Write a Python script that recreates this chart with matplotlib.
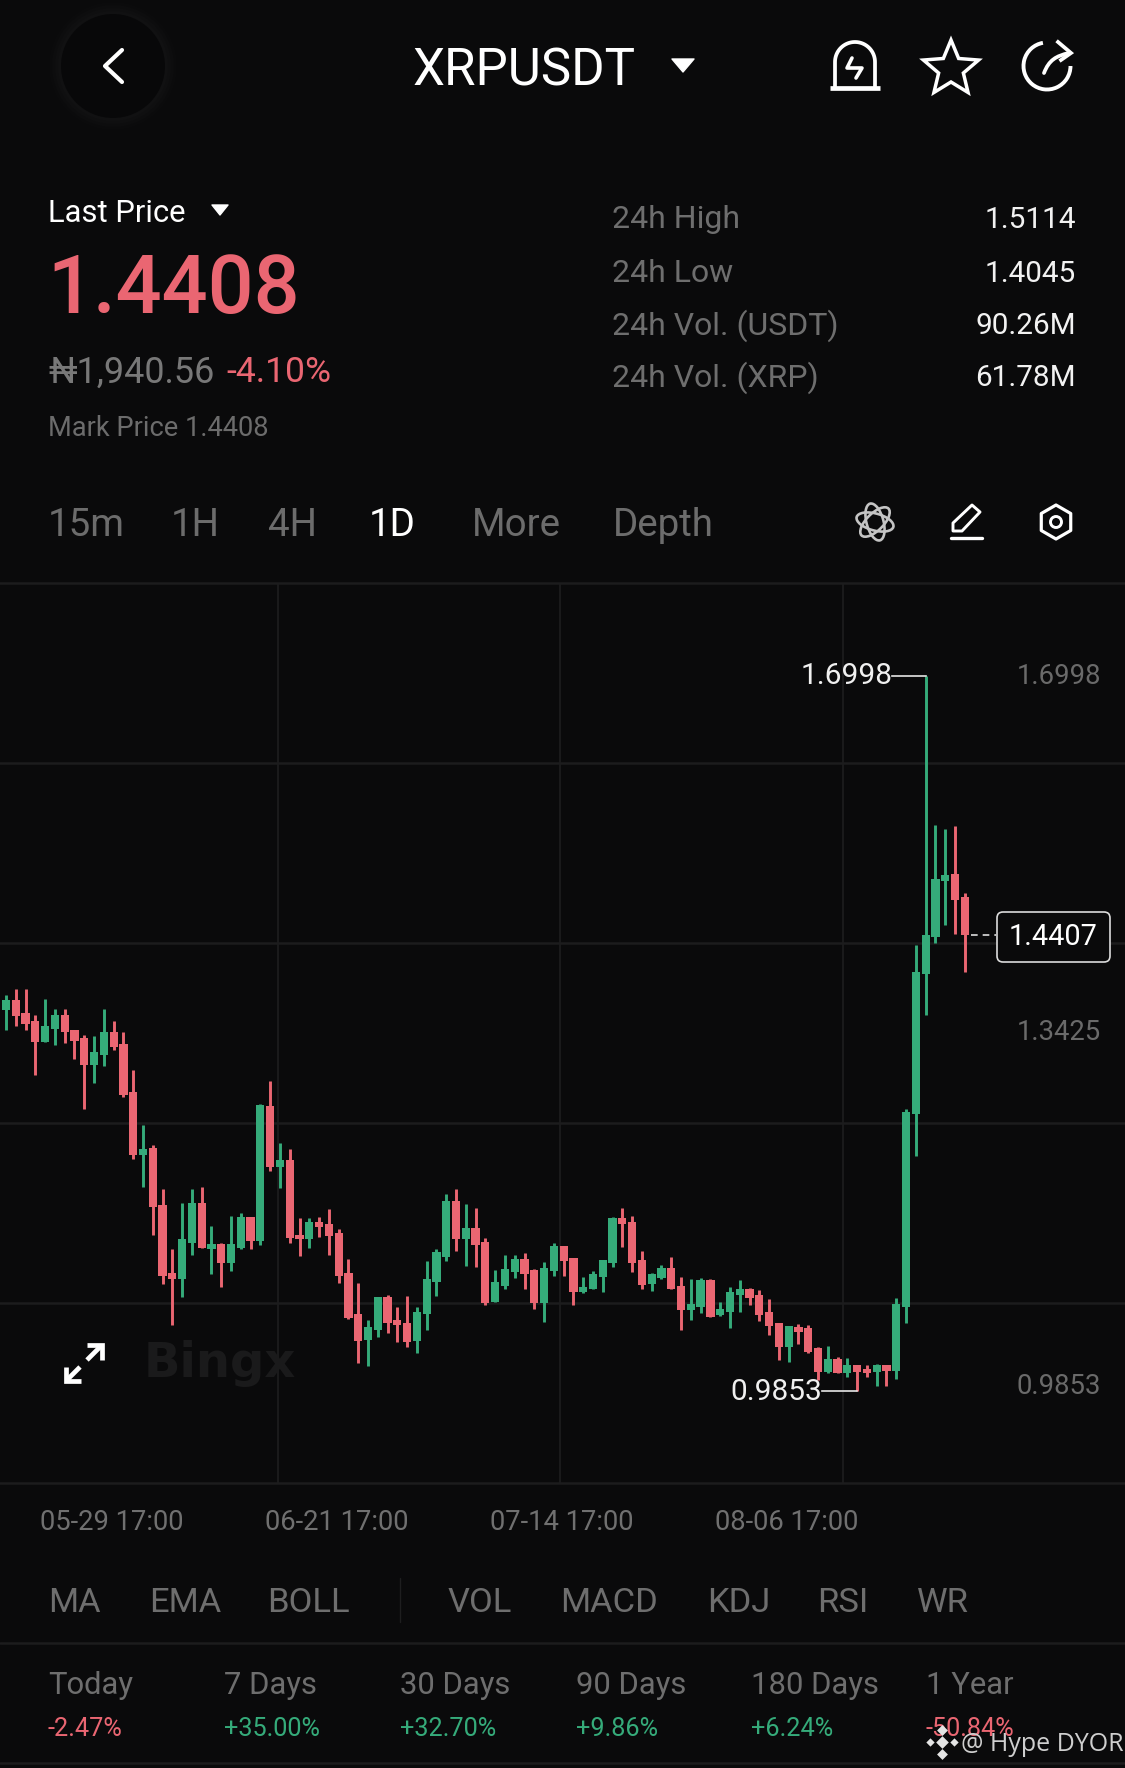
import matplotlib
matplotlib.use("Agg")
import matplotlib.pyplot as plt
from matplotlib.patches import Circle, FancyBboxPatch, Polygon, Ellipse, Arc
from matplotlib.path import Path
from matplotlib.patches import PathPatch
import numpy as np

plt.rcParams['font.family'] = ['Roboto', 'DejaVu Sans']

BG = '#0a0a0b'
RED = '#ea6672'
GREEN = '#35ab7a'
GRID = '#1c1c1d'
GREY = '#787878'
DIM = '#6c6c6c'

# candles, oldest first
opens = [1.3775,1.3658,1.3758,1.3631,1.3548,1.3335,1.3468,1.3608,1.3461,1.3378,1.3105,1.3211,1.3435,1.3318,1.2835,1.2208,1.2281,1.1711,1.1025,1.0965,
         1.1331,1.1731,1.1271,1.1315,1.1131,1.1275,1.1591,1.1348,1.2701,1.2088,1.2158,1.1408,1.1365,1.1538,1.1518,1.1431,1.1025,1.0618,1.0358,1.0458,
         1.0791,1.0555,1.0531,1.0345,1.0615,1.0938,1.1191,1.1751,1.1368,1.1475,1.1335,1.0738,1.0901,1.1035,1.1165,1.1055,1.0731,1.1045,1.1298,1.1178,
         1.0835,1.0871,1.0985,1.1131,1.1578,1.1541,1.1158,1.0918,1.0981,1.1075,1.0898,1.0658,1.0691,1.0958,1.0608,1.0638,1.0808,1.0871,1.0808,1.0638,
         1.0531,1.0291,1.0491,1.0475,1.0275,1.0038,1.0171,1.0031,1.0108,1.0071,1.0035,1.0105,1.0051,1.0691,1.2615,1.4015,1.4385,1.4948,1.5015,1.4785]
highs = [1.3775,1.3808,1.3865,1.3871,1.3608,1.3771,1.3665,1.3665,1.3461,1.3405,1.3398,1.3671,1.3551,1.3438,1.3058,1.2505,1.2305,1.1871,1.1265,1.1725,
         1.1871,1.1891,1.1498,1.1325,1.1598,1.1631,1.1591,1.2718,1.2945,1.2328,1.2268,1.1575,1.1578,1.1585,1.1668,1.1465,1.1165,1.0925,1.0558,1.0785,
         1.0808,1.0691,1.0798,1.0685,1.1151,1.1265,1.1818,1.1865,1.1718,1.1675,1.1381,1.1058,1.1208,1.1208,1.1225,1.1065,1.1138,1.1331,1.1298,1.1178,
         1.0991,1.1045,1.1161,1.1591,1.1675,1.1598,1.1245,1.1031,1.1105,1.1191,1.0991,1.0965,1.0981,1.0965,1.0741,1.0885,1.0958,1.0878,1.0858,1.0765,
         1.0531,1.0498,1.0518,1.0511,1.0285,1.0298,1.0191,1.0175,1.0108,1.0105,1.0118,1.0111,1.0781,1.2671,1.4308,1.6998,1.5508,1.5465,1.5498,1.4831]
lows = [1.3658,1.3458,1.3498,1.3458,1.3008,1.3335,1.3308,1.3331,1.3171,1.2671,1.2931,1.3098,1.3258,1.2785,1.2165,1.1891,1.1411,1.0918,1.0505,1.0785,
        1.1208,1.1278,1.1018,1.0891,1.1051,1.1265,1.1265,1.1308,1.2051,1.1878,1.1331,1.1198,1.1278,1.1391,1.1211,1.0925,1.0571,1.0131,1.0098,1.0391,
        1.0425,1.0335,1.0285,1.0231,1.0458,1.0798,1.1151,1.1251,1.1098,1.1085,1.0705,1.0738,1.0868,1.0978,1.0871,1.0665,1.0538,1.0998,1.1001,1.0705,
        1.0831,1.0868,1.0838,1.1085,1.1291,1.1038,1.0871,1.0851,1.0965,1.0865,1.0458,1.0558,1.0631,1.0585,1.0598,1.0481,1.0638,1.0711,1.0551,1.0405,
        1.0158,1.0138,1.0318,1.0225,0.9958,1.0031,1.0025,0.9991,0.9853,0.9985,0.9898,0.9901,0.9971,1.0531,1.2201,1.3608,1.4331,1.4508,1.4418,1.4035]
closes = [1.3658,1.3758,1.3598,1.3518,1.3341,1.3498,1.3608,1.3435,1.3348,1.3105,1.3238,1.3435,1.3285,1.2805,1.2205,1.2271,1.1688,1.0998,1.0965,1.1365,
          1.1731,1.1278,1.1315,1.1131,1.1315,1.1591,1.1348,1.2705,1.2088,1.2158,1.1378,1.1368,1.1538,1.1491,1.1398,1.0998,1.0581,1.0351,1.0485,1.0785,
          1.0525,1.0505,1.0341,1.0641,1.0968,1.1238,1.1751,1.1368,1.1475,1.1305,1.0731,1.0935,1.1065,1.1165,1.1018,1.0731,1.1078,1.1298,1.1151,1.0835,
          1.0891,1.1015,1.1161,1.1578,1.1518,1.1131,1.0911,1.1018,1.1078,1.0865,1.0658,1.0715,1.0958,1.0591,1.0665,1.0841,1.0871,1.0781,1.0608,1.0498,
          1.0285,1.0495,1.0438,1.0235,1.0041,1.0168,1.0031,1.0108,1.0035,1.0025,1.0105,1.0051,1.0718,1.2638,1.4038,1.4408,1.4971,1.5011,1.4758,1.4407]

grid_prices = [1.7928, 1.6128, 1.4328, 1.2528, 1.0728, 0.8928]
grid_times = [28.8, 57.6, 86.56]
axis_prices = ['1.6998', '1.3425', '0.9853']
date_labels = ['05-29 17:00', '06-21 17:00', '07-14 17:00', '08-06 17:00']

stat_labels = ['24h High', '24h Low', '24h Vol. (USDT)', '24h Vol. (XRP)']
stat_values = ['1.5114', '1.4045', '90.26M', '61.78M']
intervals = ['15m', '1H', '4H', '1D', 'More', 'Depth']
indicators = ['MA', 'EMA', 'BOLL', 'VOL', 'MACD', 'KDJ', 'RSI', 'WR']
periods = ['Today', '7 Days', '30 Days', '90 Days', '180 Days', '1 Year']
period_changes = ['-2.47%', '+35.00%', '+32.70%', '+9.86%', '+6.24%', '-50.84%']

W, H = 1125, 1768
fig = plt.figure(figsize=(W/100, H/100), dpi=100, facecolor=BG)

# ---------- chart ----------
ax = fig.add_axes([0, (H-1483)/H, 1, 900/H], facecolor=BG)
ax.set_xlim(0.386, 115.38)
ax.set_ylim(0.8928, 1.7928)
ax.axis('off')
for p in grid_prices:
    ax.axhline(p, color=GRID, lw=1.8, zorder=1, clip_on=False)
for t in grid_times:
    ax.axvline(t, color=GRID, lw=1.3, zorder=1)

idx = np.arange(len(opens))
o, h, l, c = map(np.array, (opens, highs, lows, closes))
cols = [GREEN if cc > oo else RED for oo, cc in zip(o, c)]
ax.vlines(idx, l, h, colors=cols, lw=2.1, zorder=3)
ax.bar(idx, np.abs(c-o), bottom=np.minimum(o, c), width=0.84, color=cols, zorder=3, linewidth=0)

# extreme markers
ax.plot([idx[95]-3.4, idx[95]], [highs[95]]*2, color='#e6e6e6', lw=1.2, zorder=4)
ax.plot([idx[88]-3.6, idx[88]], [lows[88]]*2, color='#e6e6e6', lw=1.2, zorder=4)
ax.text(idx[95]-3.4, highs[95], f'{highs[95]:.4f}', color='#f0f0f0', fontsize=21.5, ha='right', va='center', zorder=5)
ax.text(idx[88]-3.6, lows[88]-0.002, f'{lows[88]:.4f}', color='#f0f0f0', fontsize=21.5, ha='right', va='center', zorder=5)
ax.plot([idx[99]+0.6, 102.2], [closes[99]]*2, color='#dddddd', lw=1.2, ls=(0, (4, 3)), zorder=4)

# ---------- overlay in screen pixels ----------
ov = fig.add_axes([0, 0, 1, 1], facecolor='none')
ov.set_xlim(0, W)
ov.set_ylim(H, 0)
ov.axis('off')


def T(x, y, s, px, color='white', ha='left', va='center', **kw):
    return ov.text(x, y+3, s, fontsize=px*0.72, color=color, ha=ha, va=va, **kw)


def L(xs, ys, color='white', lw=2.0, **kw):
    ov.plot(xs, ys, color=color, lw=lw, solid_capstyle='round', solid_joinstyle='round', **kw)


# header
for r, col in zip((64, 61, 58, 55), ('#0b0b0c', '#0d0d0e', '#0f0f10', '#111112')):
    ov.add_patch(Circle((113, 66), r, fc=col, ec='none'))
ov.add_patch(Circle((113, 66), 52, fc='#080809', ec='none'))
L([122, 105, 122], [50, 66, 82], lw=3.0)
T(524, 69, 'XRPUSDT', 51, ha='center')
ov.add_patch(Polygon([(672, 59), (694, 59), (683, 72)], fc='white', ec='white', lw=1, joinstyle='round'))

# bell
theta = np.linspace(np.pi, 0, 40)
bx = np.r_[835, 855+20*np.cos(theta), 875]
by = np.r_[88, 62-20*np.sin(theta), 88]
L(bx, by, lw=2.7)
ov.plot([830, 880], [88, 88], color='white', lw=3.4, solid_capstyle='butt')
L([852, 847, 862, 856], [58, 68, 68, 78], lw=2.6)
# star
ang = np.deg2rad(np.arange(-90, 270, 36))
rad = np.where(np.arange(10) % 2 == 0, 29, 13)
ov.add_patch(Polygon(np.c_[951+rad*np.cos(ang), 69+rad*np.sin(ang)], fc='none', ec='white', lw=2.5, joinstyle='miter'))
# share
ov.add_patch(Arc((1047, 66), 47, 47, theta1=0, theta2=260, ec='white', lw=2.8))
vb = Path([(1044, 73), (1049, 60), (1056, 56), (1069, 53)], [Path.MOVETO, Path.CURVE4, Path.CURVE4, Path.CURVE4])
ov.add_patch(PathPatch(vb, fc='none', ec='white', lw=2.7, capstyle='round'))
ov.plot([1058, 1071, 1061], [42, 53, 60], color='white', lw=2.7, solid_joinstyle='miter')

# last price
T(48, 210, 'Last Price', 31)
ov.add_patch(Polygon([(212, 205), (228, 205), (220, 215)], fc='white', ec='white', lw=1, joinstyle='round'))
T(47, 288, '1.4408', 81, color=RED, fontweight='medium')
T(48, 370, '₦1,940.56', 36, color=GREY)
T(226, 370, '-4.10%', 35.5, color=RED)
T(48, 426, 'Mark Price 1.4408', 27.2, color=DIM)

for y, a, b in zip((217, 271, 323, 375), stat_labels, stat_values):
    T(612, y, a, 32, color='#6e6e6e')
    T(1076, y, b, 29.8, ha='right', color='#f2f2f2')

# tabs
for x, s in zip((48, 171, 268, 369, 472, 613), intervals):
    T(x, 522, s, 38.5, color='white' if s == '1D' else '#6c6c6c')

# tab icons
for a in (0, 60, 120):
    ov.add_patch(Ellipse((875, 522), 38, 17, angle=a+15, fc='none', ec='#c4c4c4', lw=1.9))
ov.add_patch(Polygon([(953, 531), (953, 523), (972, 505), (980, 512), (962, 531)], fc='none', ec='white', lw=2.1, joinstyle='round'))
L([951, 982], [538, 538], lw=2.4)
ha_ = np.deg2rad(np.arange(-90, 270, 60))
ov.add_patch(Polygon(np.c_[1056+17*np.cos(ha_), 522+17*np.sin(ha_)], fc='none', ec='white', lw=2.3, joinstyle='round'))
ov.add_patch(Circle((1056, 522), 5.5, fc='none', ec='white', lw=2.1))

# axis labels
for y, s in zip((674, 1029, 1384), axis_prices):
    T(1101, y, s, 27.5, color='#6a6a6a', ha='right')
ov.add_patch(FancyBboxPatch((997, 912), 113, 50, boxstyle='round,pad=0,rounding_size=6', fc=BG, ec='#dcdcdc', lw=1.2, mutation_aspect=1))
T(1053, 934, '1.4407', 29, ha='center')

# expand icon
ov.plot([87, 102, 102], [1345, 1345, 1360], color='white', lw=3.4, solid_joinstyle='miter', solid_capstyle='butt')
ov.plot([101, 87], [1346, 1360], color='white', lw=3.4, solid_capstyle='butt')
ov.plot([66, 66, 81], [1367, 1381, 1381], color='white', lw=3.4, solid_joinstyle='miter', solid_capstyle='butt')
ov.plot([67, 80], [1380, 1367], color='white', lw=3.4, solid_capstyle='butt')
# watermark
ov.text(144, 1377, 'Bingx', fontsize=48*0.72, color='#1a1a1b', ha='left', va='baseline', fontweight='bold', family='DejaVu Sans')

# dates
for x, s in zip((112, 337, 562, 787), date_labels):
    T(x, 1520, s, 27.4, color='#707070', ha='center')

# indicators
for x, s in zip((48, 149, 267, 448, 560, 707, 817, 917), indicators):
    T(x, 1600, s, 34.5, color='#6e6e6e')
L([400, 400], [1578, 1622], color='#1e1e1f', lw=1.0)
L([0, W], [1643, 1643], color=GRID, lw=1.8)
L([0, W], [1763, 1763], color=GRID, lw=1.8)

# periods
for x, a, b in zip((48, 224, 400, 576, 751, 926), periods, period_changes):
    T(x, 1682, a, 31, color='#6e6e6e')
    T(x, 1726, b, 25.2, color=RED if b.startswith('-') else GREEN)

# source tag
for dx, dy, s in [(0, 0, 46), (-12, 0, 20), (12, 0, 20), (0, -12, 34), (0, 12, 34)]:
    ov.scatter(942+dx, 1742+dy, s=s*0.9, marker='D', color='#e4e4e4', linewidths=0, zorder=6)
ov.text(961, 1751, '@ Hype DYOR', fontsize=25*0.72, color='#cfcfcf', va='baseline', family='Open Sans', zorder=6)

fig.savefig('out.png', dpi=100, facecolor=BG)
